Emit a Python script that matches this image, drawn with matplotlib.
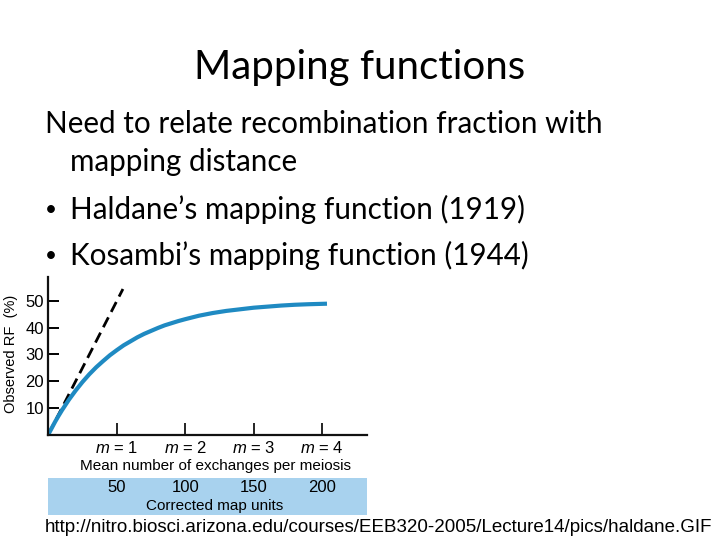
import matplotlib
matplotlib.use("Agg")
import matplotlib.pyplot as plt
from matplotlib.patches import Rectangle

plt.rcParams["mathtext.fontset"] = "custom"
plt.rcParams["mathtext.rm"] = "Liberation Sans"
plt.rcParams["mathtext.it"] = "Liberation Sans:italic"

W, H = 720, 540
DPI = 100

# Data
m_curve = [0, 0.05, 0.1, 0.15, 0.2, 0.3, 0.4, 0.5, 0.6, 0.7, 0.8, 0.9, 1.0,
           1.1, 1.2, 1.3, 1.4, 1.5, 1.6, 1.7, 1.8, 1.9, 2.0, 2.2, 2.4, 2.6,
           2.8, 3.0, 3.2, 3.4, 3.6, 3.8, 4.07]
rf_curve = [0, 2.4, 4.8, 7.0, 9.1, 13.0, 16.5, 19.7, 22.6, 25.2, 27.5, 29.7, 31.6,
            33.4, 34.9, 36.4, 37.7, 38.8, 39.9, 40.9, 41.7, 42.5, 43.2, 44.5, 45.5, 46.3,
            46.9, 47.5, 47.9, 48.3, 48.6, 48.8, 49.0]
m_dash = [0, 1.09]
rf_dash = [0, 54.5]
y_ticks = [10, 20, 30, 40, 50]
m_ticks = [1, 2, 3, 4]
m_labels = ["$m$ = 1", "$m$ = 2", "$m$ = 3", "$m$ = 4"]
map_units = ["50", "100", "150", "200"]

title = "Mapping functions"
body = [
    ("Need to relate recombination fraction with", 45, 124, False),
    ("mapping distance", 70, 162, False),
    ("Haldane\u2019s mapping function (1919)", 70, 209, True),
    ("Kosambi\u2019s mapping function (1944)", 70, 255, True),
]
url = "http://nitro.biosci.arizona.edu/courses/EEB320-2005/Lecture14/pics/haldane.GIF"

fig = plt.figure(figsize=(W / DPI, H / DPI), dpi=DPI)
fig.patch.set_facecolor("white")

def fx(px):
    return px / W

def fy(py):
    return 1 - py / H

SLIDE_FONT = ["Lato", "DejaVu Sans"]
CHART_FONT = ["Liberation Sans", "DejaVu Sans"]

fig.text(fx(360), fy(68), title, ha="center", va="center",
         fontsize=29, family=SLIDE_FONT, color="black")
for txt, x, y, bullet in body:
    fig.text(fx(x), fy(y), txt, ha="left", va="center",
             fontsize=21.3, family=SLIDE_FONT, color="black")
    if bullet:
        fig.text(fx(51), fy(y + 1), "\u2022", ha="center", va="center",
                 fontsize=15, family=SLIDE_FONT, color="black")

# Chart axes placed in pixel positions
x0, x1 = 48.3, 366.7
y0, y1 = 434.5, 277
ax = fig.add_axes([fx(x0), fy(y0), fx(x1 - x0), (y0 - y1) / H])
ax.set_xlim(0, 4.65)
ax.set_ylim(0, 59)
ax.patch.set_alpha(0)
for s in ["top", "right"]:
    ax.spines[s].set_visible(False)
for s in ["left", "bottom"]:
    ax.spines[s].set_linewidth(1.6)
    ax.spines[s].set_color("#111111")

ax.plot(m_dash, rf_dash, color="black", lw=2.0, dashes=(4, 2.2))
ax.plot(m_curve, rf_curve, color="#1f8ac2", lw=3.0, solid_capstyle="butt",
        solid_joinstyle="round")

ax.set_yticks(y_ticks)
ax.set_yticklabels([str(v) for v in y_ticks], family=CHART_FONT, fontsize=12)
ax.tick_params(axis="y", direction="in", length=8, width=1.4, pad=3)
ax.set_xticks(m_ticks)
ax.set_xticklabels(m_labels, fontsize=12, family=CHART_FONT)
ax.tick_params(axis="x", direction="in", length=9, width=1.2, pad=4)

fig.text(fx(11), fy(354), "Observed RF  (%)", rotation=90, ha="center",
         va="center", family=CHART_FONT, fontsize=10.5)

fig.text(fx(215), fy(466), "Mean number of exchanges per meiosis", ha="center",
         va="center", family=CHART_FONT, fontsize=11)

# blue band
band = Rectangle((fx(48), fy(515)), fx(367 - 48), (515 - 478) / H,
                 transform=fig.transFigure, facecolor="#a8d2ee", edgecolor="none")
fig.patches.append(band)
for m, lab in zip(m_ticks, map_units):
    xpix = x0 + (x1 - x0) * m / 4.65
    fig.text(fx(xpix), fy(487), lab, ha="center", va="center",
             family=CHART_FONT, fontsize=12)
fig.text(fx(215), fy(506), "Corrected map units", ha="center", va="center",
         family=CHART_FONT, fontsize=11)

fig.text(fx(45), fy(527), url, ha="left", va="center",
         family=CHART_FONT, fontsize=13.5)

fig.savefig("out.png", dpi=DPI)
